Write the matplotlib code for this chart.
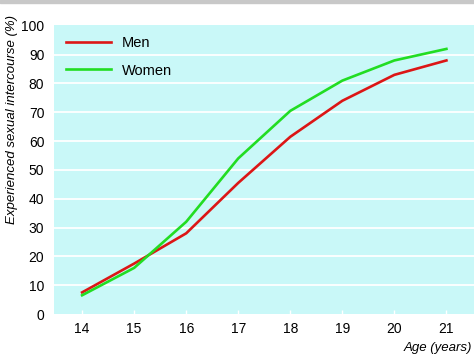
import matplotlib
matplotlib.use('Agg')
import matplotlib.pyplot as plt
from matplotlib.patches import Rectangle

plt.rcParams['font.family'] = ['Liberation Sans Narrow', 'Liberation Sans', 'DejaVu Sans']

# data
ages = [14, 15, 16, 17, 18, 19, 20, 21]
men = [7.5, 17.5, 28, 45.5, 61.5, 74, 83, 88]
women = [6.5, 16, 32, 54, 70.5, 81, 88, 92]
yticks = [0, 10, 20, 30, 40, 50, 60, 70, 80, 90, 100]

fig = plt.figure(figsize=(4.74, 3.55), dpi=100)
ax = fig.add_axes([54/474, 41/355, 420/474, 289/355])
ax.set_facecolor('#c9f8f8')

ax.plot(ages, men, color='#dc1616', lw=1.9, label='Men')
ax.plot(ages, women, color='#22dd22', lw=1.9, label='Women')

ax.set_xlim(13.46, 21.53)
ax.set_ylim(0, 100.3)
ax.set_xticks(ages)
ax.set_yticks(yticks)
for y in yticks[1:-1]:
    ax.axhline(y, color='white', lw=1.3, zorder=0.5)

for s in ax.spines.values():
    s.set_visible(False)
ax.tick_params(axis='y', length=0, pad=7, labelsize=10)
ax.tick_params(axis='x', direction='in', length=3, width=1, color='white', pad=6, labelsize=10)

ax.legend(loc='upper left', bbox_to_anchor=(0.028, 0.963), frameon=False,
          handlelength=3.1, handletextpad=0.75, labelspacing=0.95,
          borderpad=0, borderaxespad=0, fontsize=10.5)

fig.text(12/474, 1 - 120/355, 'Experienced sexual intercourse (%)', rotation=90,
         ha='center', va='center', style='italic', fontsize=9.5)
fig.text(472/474, 1 - 348/355, 'Age (years)', ha='right', va='center',
         style='italic', fontsize=9.5)

# grey strip along the top edge
fig.patches.append(Rectangle((0, 1 - 3/355), 1, 3/355, transform=fig.transFigure,
                             color='#c8c8c8', zorder=0))

fig.savefig('out.png', dpi=100)
